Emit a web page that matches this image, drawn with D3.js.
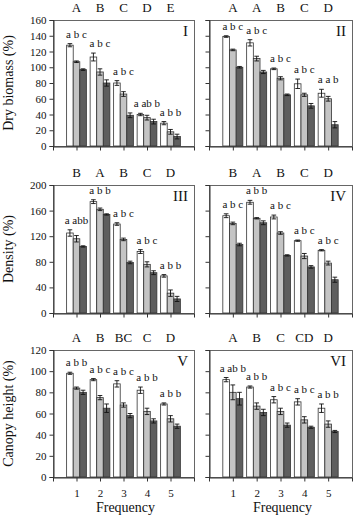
<!DOCTYPE html>
<html>
<head>
<meta charset="utf-8">
<script src="https://cdn.jsdelivr.net/npm/d3@7"></script>
<style>
  body { margin: 0; background: #fff; }
  svg text { font-family: "Liberation Serif", "Times New Roman", Tinos, "DejaVu Serif", serif; fill: #111; }
</style>
</head>
<body>
<div id="chart"></div>
<script>
// Frequency groups and the three bars per group
const freqs = [1, 2, 3, 4, 5];

// Panel I - dry biomass
const valsI = [[128, 107, 97], [113, 94, 80], [80, 66, 39], [40, 36, 31], [29, 18, 12]];
const errsI = [[2, 1, 1], [5, 4, 4], [3, 3, 3], [1.5, 3, 3], [2, 3, 3]];
const lettersI = ["a b c", "a b c", "a b c", "a ab b", "a b b"];
const topI = ["A", "B", "C", "D", "E"];

// Panel II - dry biomass
const valsII = [[139, 122, 100], [131, 111, 94], [98, 86, 65], [79, 65, 51], [67, 60, 27]];
const errsII = [[1, 1, 1], [4, 3, 2], [1, 2, 1], [6, 2, 3], [5, 3, 4]];
const lettersII = ["a b c", "a b c", "a b c", "a b c", "a a b"];
const topII = ["A", "A", "B", "C", "D"];

// Panel III - density
const valsIII = [[125, 116, 104], [174, 162, 154], [139, 115, 79], [96, 76, 63], [58, 31, 22]];
const errsIII = [[5, 5, 1], [3, 2, 1], [2, 2, 2], [3, 4, 3], [2, 5, 4]];
const lettersIII = ["a abb", "a b b", "a b c", "a b c", "a b b"];
const topIII = ["B", "A", "B", "C", "D"];

// Panel IV - density
const valsIV = [[152, 140, 107], [173, 148, 141], [150, 125, 90], [113, 89, 72], [98, 78, 52]];
const errsIV = [[3, 2, 2], [3, 1, 3], [3, 2, 1], [1, 4, 2], [1, 3, 4]];
const lettersIV = ["a b c", "a b b", "a b c", "a b c", "a b c"];
const topIV = ["B", "A", "B", "C", "D"];

// Panel V - canopy height
const valsV = [[98, 84, 80], [92, 75, 65], [88, 68, 58], [82, 62, 53], [69, 55, 48]];
const errsV = [[1, 1, 2], [1, 2, 4], [3, 2, 2], [3, 3, 2], [1, 3, 2]];
const lettersV = ["a b b", "a b c", "a b c", "a b b", "a b b"];
const topV = ["A", "B", "BC", "C", "D"];

// Panel VI - canopy height
const valsVI = [[92, 80, 74], [85, 67, 61], [73, 62, 49], [71, 54, 47], [65, 50, 43]];
const errsVI = [[2, 7, 6], [1, 3, 3], [3, 3, 2], [3, 3, 1], [4, 3, 1]];
const lettersVI = ["a ab b", "a b b", "a b c", "a b c", "a b b"];
const topVI = ["A", "B", "C", "CD", "D"];

// y ticks per row
const ticksDry = [0, 20, 40, 60, 80, 100, 120, 140, 160];
const ticksDensity = [0, 40, 80, 120, 160, 200];
const ticksCanopy = [0, 20, 40, 60, 80, 100, 120];

const W = 355, H = 517;
const serif = "'Liberation Serif', 'Times New Roman', Tinos, 'DejaVu Serif', serif";
const barColors = ["#ffffff", "#c4c4c4", "#5e5e5e"];

const svg = d3.select("#chart").append("svg")
    .attr("width", W)
    .attr("height", H)
    .attr("font-family", serif);

const cols = [{ x: 53, w: 141 }, { x: 209, w: 143 }];
const rows = [{ y: 20, h: 126 }, { y: 185, h: 128 }, { y: 350, h: 127 }];

const panels = [
    { r: 0, c: 0, name: "I", vals: valsI, errs: errsI, letters: lettersI, top: topI, ticks: ticksDry, label: "Dry biomass (%)" },
    { r: 0, c: 1, name: "II", vals: valsII, errs: errsII, letters: lettersII, top: topII, ticks: ticksDry },
    { r: 1, c: 0, name: "III", vals: valsIII, errs: errsIII, letters: lettersIII, top: topIII, ticks: ticksDensity, label: "Density (%)" },
    { r: 1, c: 1, name: "IV", vals: valsIV, errs: errsIV, letters: lettersIV, top: topIV, ticks: ticksDensity },
    { r: 2, c: 0, name: "V", vals: valsV, errs: errsV, letters: lettersV, top: topV, ticks: ticksCanopy, label: "Canopy height (%)" },
    { r: 2, c: 1, name: "VI", vals: valsVI, errs: errsVI, letters: lettersVI, top: topVI, ticks: ticksCanopy }
];

panels.forEach(p => {
    const col = cols[p.c], row = rows[p.r];
    const g = svg.append("g").attr("transform", `translate(${col.x},${row.y})`);

    const x = d3.scaleLinear().domain([0, 6]).range([0, col.w]);
    const y = d3.scaleLinear().domain([0, d3.max(p.ticks)]).range([row.h, 0]);
    const step = x(1) - x(0);
    const bw = step * 0.28;

    // frame
    g.append("rect")
        .attr("x", 0.5).attr("y", 0.5)
        .attr("width", col.w).attr("height", row.h)
        .attr("fill", "none")
        .attr("stroke", "#666");

    // y axis
    const yAxis = d3.axisLeft(y).tickValues(p.ticks).tickSize(4).tickPadding(3);
    if (p.c == 1) yAxis.tickFormat("");
    const ya = g.append("g").attr("transform", "translate(0.5,0)").call(yAxis)
        .attr("font-family", serif).attr("font-size", 11);
    ya.select(".domain").attr("stroke", "#333");
    ya.selectAll(".tick line").attr("stroke", "#333");
    ya.selectAll("text").attr("fill", "#111");

    // x axis
    const xAxis = d3.axisBottom(x).tickValues(freqs).tickSize(4).tickPadding(8)
        .tickFormat(p.r == 2 ? d3.format("d") : "");
    const xa = g.append("g").attr("transform", `translate(0,${row.h + 0.5})`).call(xAxis)
        .attr("font-family", serif).attr("font-size", 11);
    xa.select(".domain").attr("stroke", "#333");
    xa.selectAll(".tick line").attr("stroke", "#333");
    xa.selectAll("text").attr("fill", "#111");

    // bars
    const groups = g.selectAll(".grp")
        .data(p.vals.map((v, i) => ({ f: freqs[i], v: v, e: p.errs[i], i: i })))
        .enter().append("g")
        .attr("class", "grp");

    groups.each(function (d) {
        const gg = d3.select(this);
        d.v.forEach((val, k) => {
            const bx = x(d.f) + (k - 1.5) * bw;
            gg.append("rect")
                .attr("x", bx).attr("y", y(val))
                .attr("width", bw).attr("height", y(0) - y(val))
                .attr("fill", barColors[k])
                .attr("stroke", "#333")
                .attr("stroke-width", 0.8);
            // error bar
            const cx = bx + bw / 2, cap = bw * 0.35;
            const e = d.e[k];
            gg.append("path")
                .attr("d", `M${cx},${y(val + e)}V${y(val - e)}M${cx - cap},${y(val + e)}H${cx + cap}M${cx - cap},${y(val - e)}H${cx + cap}`)
                .attr("stroke", "#111")
                .attr("stroke-width", 0.9)
                .attr("fill", "none");
        });
        // significance letters above bars
        const topVal = d3.max(d.v.map((val, k) => val + d.e[k]));
        gg.append("text")
            .attr("x", x(d.f))
            .attr("y", y(topVal) - 6)
            .attr("text-anchor", "middle")
            .attr("font-size", 11)
            .text(p.letters[d.i]);
    });

    // group letters above panel
    g.selectAll(".toplet")
        .data(p.top)
        .enter().append("text")
        .attr("x", (d, i) => x(freqs[i]))
        .attr("y", -8)
        .attr("text-anchor", "middle")
        .attr("font-size", 13)
        .text(d => d);

    // panel numeral
    g.append("text")
        .attr("x", col.w - 6)
        .attr("y", 16)
        .attr("text-anchor", "end")
        .attr("font-size", 15)
        .text(p.name);

    // y label
    if (p.label) {
        g.append("text")
            .attr("transform", `translate(${-40},${row.h / 2}) rotate(-90)`)
            .attr("text-anchor", "middle")
            .attr("font-size", 14)
            .text(p.label);
    }

    // x label
    if (p.r == 2) {
        g.append("text")
            .attr("x", col.w / 2 + 2)
            .attr("y", row.h + 35)
            .attr("text-anchor", "middle")
            .attr("font-size", 14)
            .text("Frequency");
    }
});
</script>
</body>
</html>
